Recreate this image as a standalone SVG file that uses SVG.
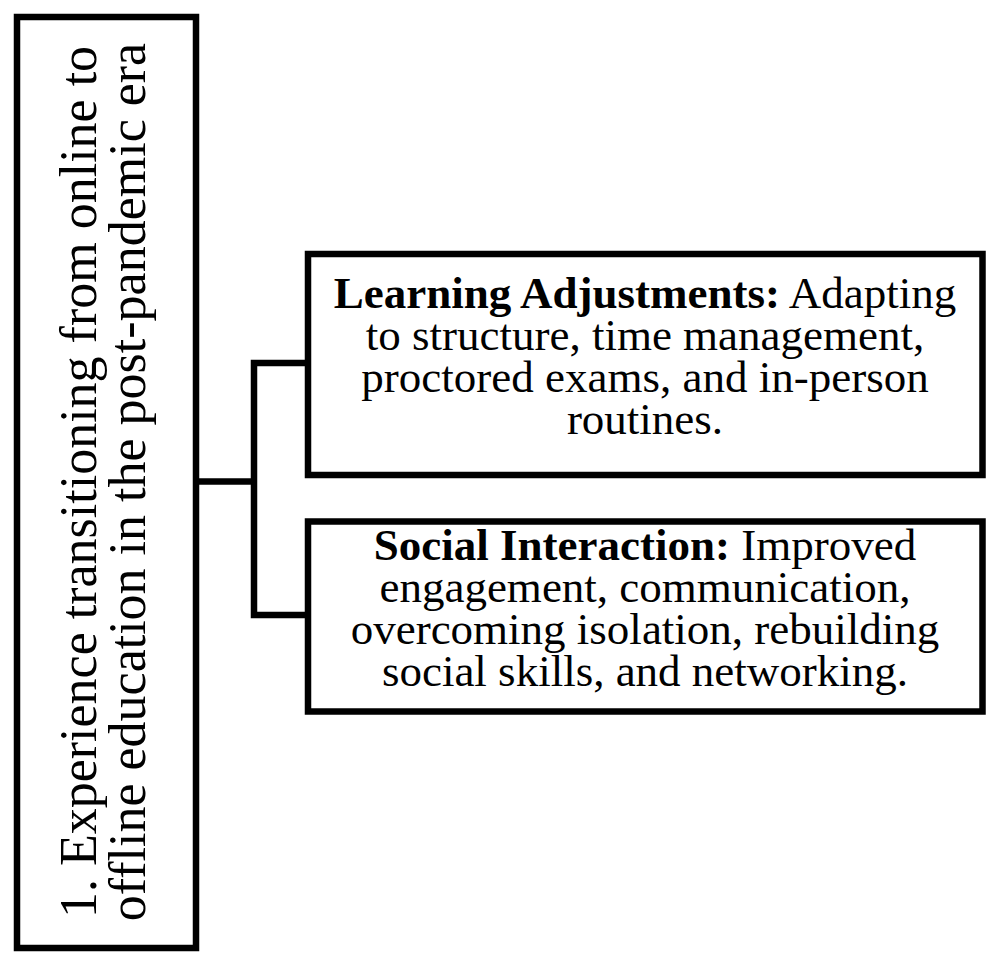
<svg xmlns="http://www.w3.org/2000/svg" width="1000" height="966" viewBox="0 0 1000 966">
<style>
.box{fill:#fff;stroke:#000;stroke-width:6.5}
.conn{fill:none;stroke:#000;stroke-width:6.5;stroke-linejoin:miter}
.t{font-family:"Liberation Serif","Times New Roman",serif;font-size:45px;fill:#000;text-anchor:middle}
.rt{font-family:"Liberation Serif","Times New Roman",serif;font-size:52px;fill:#000;text-anchor:middle}
.b{font-weight:bold}
</style>
<rect width="1000" height="966" fill="#fff"/>
<g id="connectors">
<path class="conn" d="M196,481.5 H254"/>
<path class="conn" d="M308,363 H254 V615 H308"/>
</g>
<g id="node-main">
<rect class="box" x="17" y="17" width="179" height="931"/>
<text class="rt" transform="translate(96,482) rotate(-90)"><tspan x="0" y="0">1. Experience transitioning from online to</tspan><tspan x="0" y="49">offline education in the post-pandemic era</tspan></text>
</g>
<g id="node-learning">
<rect class="box" x="308" y="254" width="674.5" height="221"/>
<text class="t"><tspan x="645" y="308"><tspan class="b">Learning Adjustments:</tspan> Adapting</tspan><tspan x="645" y="350">to structure, time management,</tspan><tspan x="645" y="392">proctored exams, and in-person</tspan><tspan x="645" y="434">routines.</tspan></text>
</g>
<g id="node-social">
<rect class="box" x="308" y="521.5" width="674.5" height="190"/>
<text class="t"><tspan x="645" y="560"><tspan class="b">Social Interaction:</tspan> Improved</tspan><tspan x="645" y="602">engagement, communication,</tspan><tspan x="645" y="644">overcoming isolation, rebuilding</tspan><tspan x="645" y="686">social skills, and networking.</tspan></text>
</g>
</svg>
